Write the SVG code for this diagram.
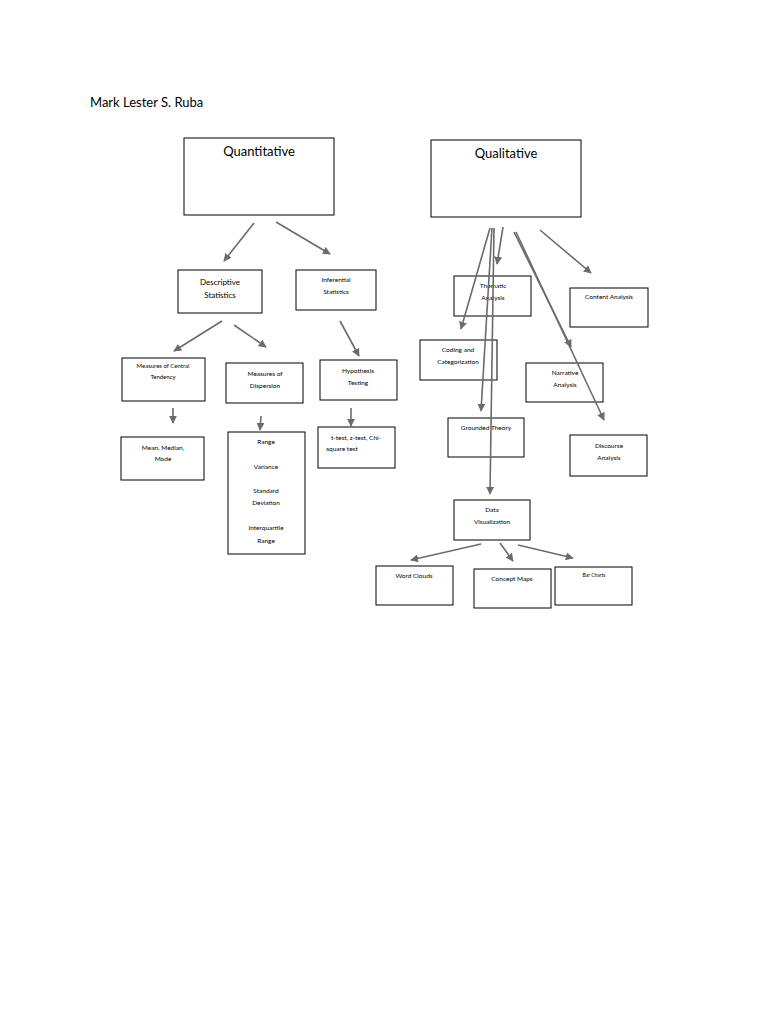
<svg xmlns="http://www.w3.org/2000/svg" width="768" height="1024" viewBox="0 0 768 1024">
<style>
rect{fill:#fff;stroke:#000;stroke-width:1}
text{font-family:Lato,"Open Sans",sans-serif;fill:#000;text-anchor:middle}
.s{font-size:8px}.xs{font-size:6px}.t{font-size:6.5px}
.c line{stroke:#6b6b6b;stroke-width:1.6;marker-end:url(#a)}
</style>
<defs><marker id="a" viewBox="0 0 10 10" refX="9" refY="5" markerWidth="5" markerHeight="5" orient="auto" markerUnits="strokeWidth"><path d="M0,0L10,5L0,10z" fill="#6b6b6b"/></marker></defs>
<rect x="0" y="0" width="768" height="1024" style="stroke:none"/>
<text x="90" y="107" style="font-size:13px;text-anchor:start">Mark Lester S. Ruba</text>
<g id="quant"><rect x="184" y="138" width="150" height="77"/><text x="259" y="156" style="font-size:13px">Quantitative</text></g>
<g id="qual"><rect x="431" y="140" width="150" height="77"/><text x="506" y="158" style="font-size:13px">Qualitative</text></g>
<g id="desc"><rect x="178" y="270" width="84" height="43"/><text class="s" x="220" y="285">Descriptive</text><text class="s" x="220" y="298">Statistics</text></g>
<g id="inf"><rect x="296" y="270" width="80" height="40"/><text class="t" x="336" y="282">Inferential</text><text class="t" x="336" y="294">Statistics</text></g>
<g id="mct"><rect x="122" y="358" width="83" height="43"/><text class="xs" x="163" y="368">Measures of Central</text><text class="xs" x="163" y="379">Tendency</text></g>
<g id="mod"><rect x="226" y="363" width="77" height="40"/><text class="t" x="265" y="376">Measures of</text><text class="t" x="265" y="388">Dispersion</text></g>
<g id="hyp"><rect x="320" y="360" width="77" height="40"/><text class="t" x="358" y="373">Hypothesis</text><text class="t" x="358" y="385">Testing</text></g>
<g id="mmm"><rect x="121" y="437" width="83" height="43"/><text class="t" x="163" y="450">Mean, Median,</text><text class="t" x="163" y="461">Mode</text></g>
<g id="range"><rect x="228" y="432" width="77" height="122"/><text class="t" x="266" y="444">Range</text><text class="t" x="266" y="469">Variance</text><text class="t" x="266" y="493">Standard</text><text class="t" x="266" y="505">Deviation</text><text class="t" x="266" y="530">Interquartile</text><text class="t" x="266" y="543">Range</text></g>
<g id="tt"><rect x="318" y="427" width="77" height="41"/><text class="t" x="356" y="440">t-test, z-test, Chi-</text><text class="t" x="342" y="451">square test</text></g>
<g id="them"><rect x="454" y="276" width="77" height="40"/><text class="t" x="493" y="288">Thematic</text><text class="t" x="493" y="300">Analysis</text></g>
<g id="cont"><rect x="570" y="288" width="78" height="39"/><text class="t" x="609" y="299">Content Analysis</text></g>
<g id="code"><rect x="420" y="340" width="77" height="40"/><text class="t" x="458" y="352">Coding and</text><text class="t" x="458" y="364">Categorization</text></g>
<g id="narr"><rect x="526" y="363" width="77" height="39"/><text class="t" x="565" y="375">Narrative</text><text class="t" x="565" y="387">Analysis</text></g>
<g id="grnd"><rect x="448" y="418" width="76" height="39"/><text class="t" x="486" y="430">Grounded Theory</text></g>
<g id="disc"><rect x="570" y="435" width="77" height="41"/><text class="t" x="609" y="448">Discourse</text><text class="t" x="609" y="460">Analysis</text></g>
<g id="dv"><rect x="454" y="500" width="76" height="40"/><text class="t" x="492" y="512">Data</text><text class="t" x="492" y="524">Visualization</text></g>
<g id="wc"><rect x="376" y="566" width="77" height="39"/><text class="t" x="414" y="578">Word Clouds</text></g>
<g id="cm"><rect x="474" y="569" width="77" height="39"/><text class="t" x="512" y="581">Concept Maps</text></g>
<g id="bc"><rect x="555" y="567" width="77" height="38"/><text x="594" y="577" style="font-size:5px">Bar Charts</text></g>
<g class="c" id="connectors">
<line x1="254" y1="223" x2="224" y2="261"/>
<line x1="276" y1="222" x2="330" y2="254"/>
<line x1="222" y1="321" x2="174" y2="351"/>
<line x1="234" y1="325" x2="266" y2="347"/>
<line x1="340" y1="321" x2="359" y2="356"/>
<line x1="173" y1="408" x2="173" y2="423"/>
<line x1="261" y1="416" x2="260" y2="430"/>
<line x1="351" y1="408" x2="351" y2="426"/>
<line x1="490" y1="228" x2="461" y2="329"/>
<line x1="503" y1="227" x2="497" y2="264"/>
<line x1="492" y1="228" x2="481" y2="411"/>
<line x1="494" y1="228" x2="490" y2="494"/>
<line x1="514" y1="232" x2="571" y2="347"/>
<line x1="516" y1="232" x2="604" y2="420"/>
<line x1="540" y1="230" x2="591" y2="273"/>
<line x1="481" y1="544" x2="411" y2="560"/>
<line x1="500" y1="543" x2="513" y2="561"/>
<line x1="518" y1="545" x2="573" y2="558"/>
</g>
</svg>
